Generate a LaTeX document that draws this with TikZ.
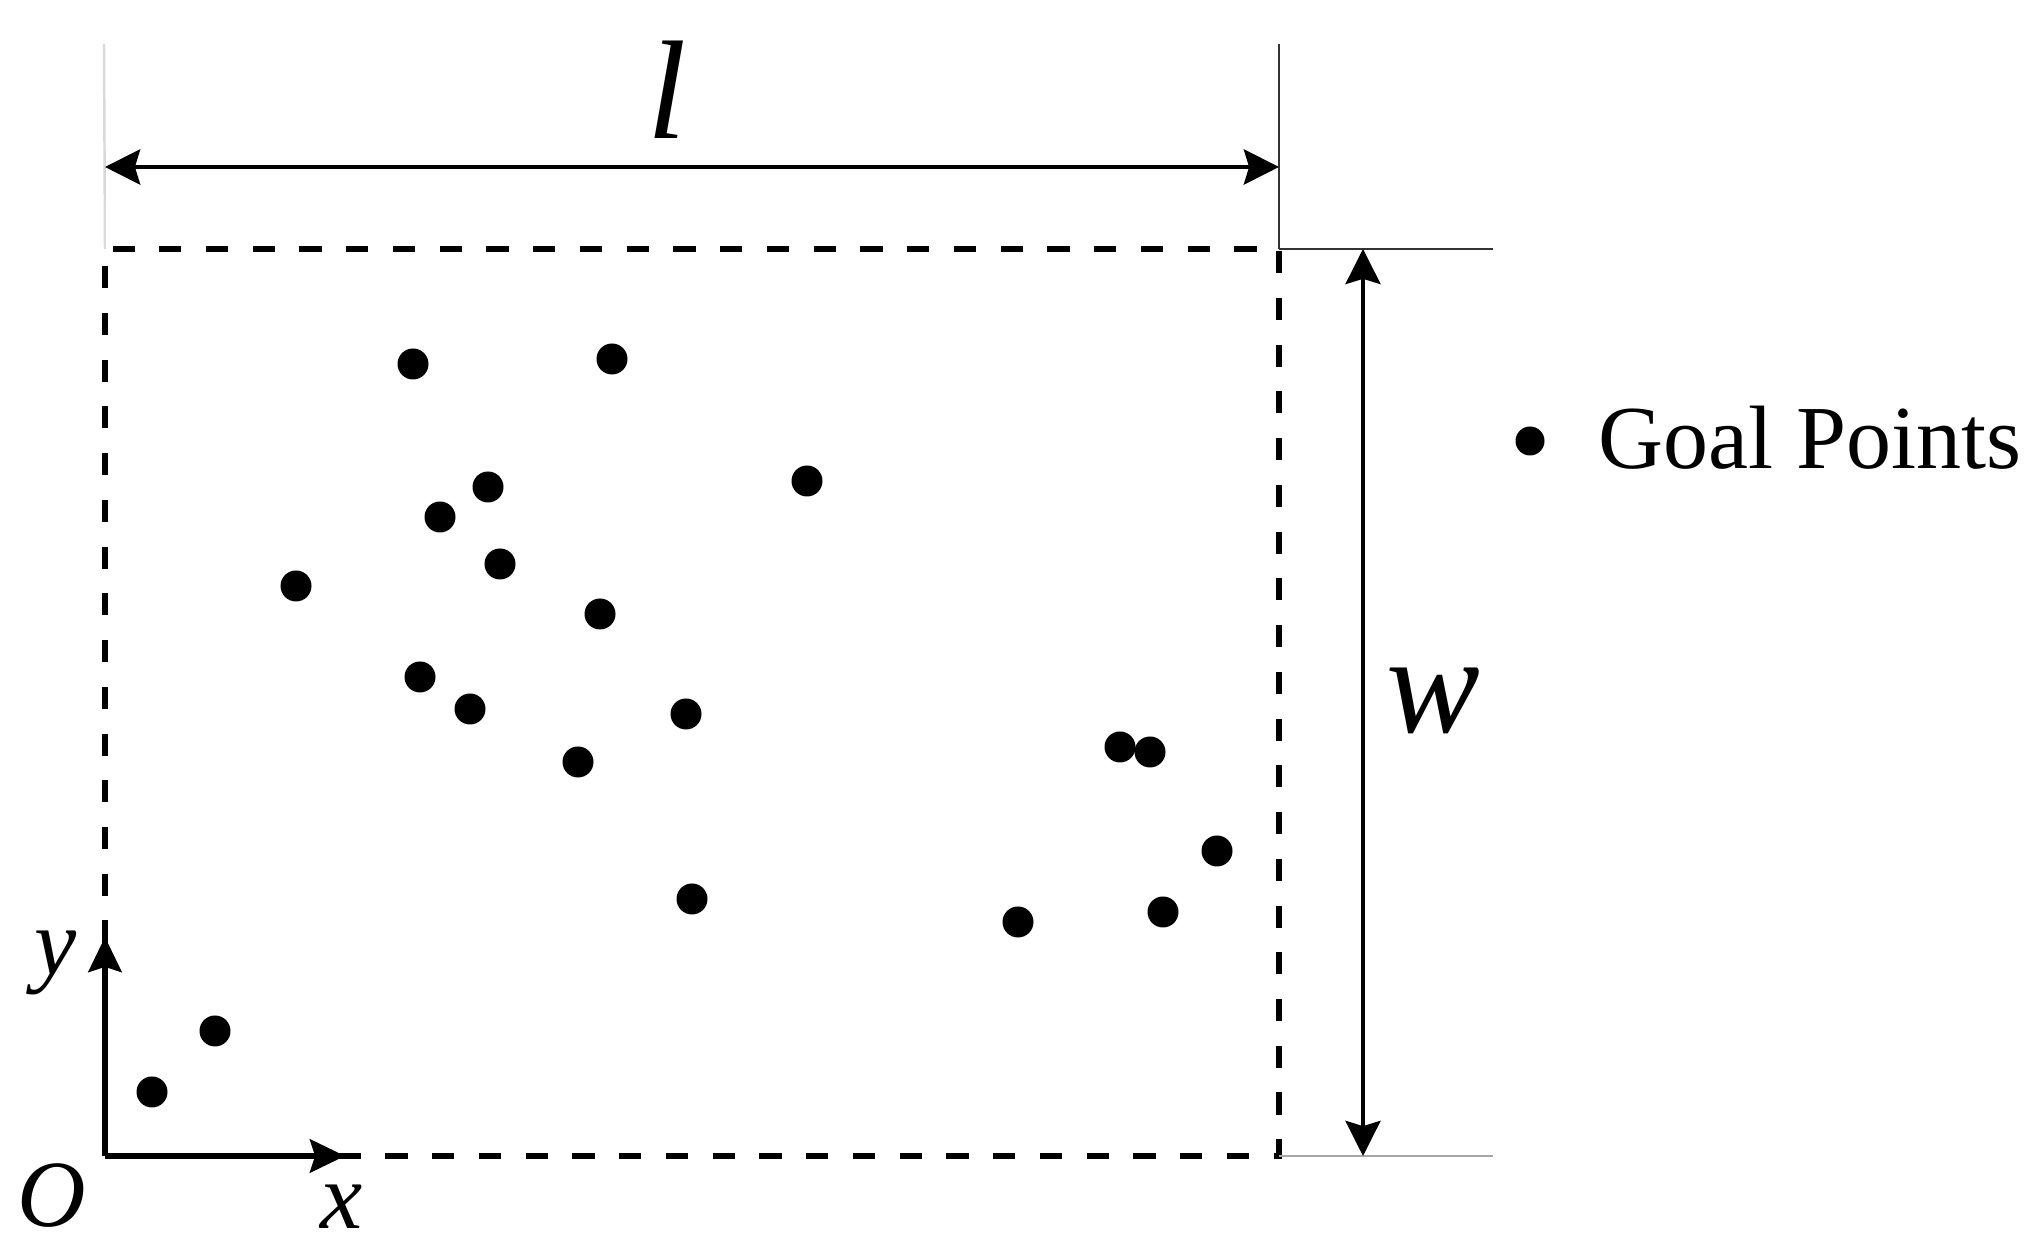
\documentclass[tikz,border=0pt]{standalone}
\usepackage{fontspec}
\setmainfont{Liberation Serif}
\usepackage{tikz}
\usetikzlibrary{arrows.meta, positioning, calc}

\tikzset{
  goal/.style={circle, fill=black, inner sep=0pt, minimum size=0.31cm},
  dimline/.style={{Stealth[length=10pt,width=10pt,inset=1.5pt]}-{Stealth[length=10pt,width=10pt,inset=1.5pt]}},
  extline/.style={line width=0.7pt},
  smalllab/.style={font=\fontsize{27}{30}\selectfont\itshape},
  biglab/.style={font=\fontsize{40}{44}\selectfont\itshape}
}

\begin{document}
\begin{tikzpicture}
  \useasboundingbox (0,0) rectangle (20.37,12.56);
  % 区域四角
  \coordinate (O) at (1.05,1.00);
  \coordinate (BR) at (12.79,1.00);
  \coordinate (TR) at (12.79,10.07);
  \coordinate (TL) at (1.05,10.07);
  % 工作区域（虚线框）
  \draw[line width=1.6pt, dash pattern=on 6.3pt off 7pt] (O) -- (BR) -- (TR) -- (TL) -- cycle;
  % 尺寸界线
  \coordinate (lL) at (1.04,12.12);
  \coordinate (lR) at (12.79,12.12);
  \coordinate (wT) at (14.93,10.07);
  \coordinate (wB) at (14.93,1.00);
  \draw[extline, black!15] (TL) -- (lL);
  \draw[extline, black!80] (TR) -- (lR);
  \draw[extline, black!80] (TR) -- (wT);
  \draw[extline, black!35] (BR) -- (wB);
  % 长度 l
  \coordinate (la) at (1.05,10.89);
  \coordinate (lb) at (12.79,10.89);
  \draw[dimline, line width=1.2pt] (la) -- (lb);
  \node[biglab] (llab) at (6.67,11.66) {l};
  % 宽度 w
  \coordinate (wa) at (13.63,10.07);
  \coordinate (wb) at (13.63,1.00);
  \draw[dimline, line width=0.9pt] (wa) -- (wb);
  \node[biglab] (wlab) at (14.33,5.55) {w};
  % 坐标轴
  \coordinate (xe) at (3.45,1.00);
  \coordinate (ye) at (1.05,3.19);
  \draw[-{Stealth[length=10pt,width=9.5pt,inset=1.5pt]}, line width=1.5pt] (O) -- (xe);
  \draw[-{Stealth[length=10pt,width=9.5pt,inset=1.5pt]}, line width=1.5pt] (O) -- (ye);
  \node[smalllab] (ylab) at (0.56,2.93) {y};
  \node[smalllab] (olab) at (0.52,0.60) {O};
  \node[smalllab] (xlab) at (3.42,0.49) {x};
  % 目标点
  \foreach \px/\py [count=\k] in {4.13/8.92, 6.12/8.97, 8.07/7.75, 4.88/7.69, 4.40/7.39,
      5.00/6.92, 2.96/6.70, 6.00/6.42, 4.20/5.79, 4.70/5.47, 6.86/5.42, 5.78/4.94,
      11.20/5.09, 11.50/5.04, 12.17/4.05, 6.92/3.57, 10.18/3.34, 11.63/3.44,
      2.15/2.25, 1.52/1.64}
    \node[goal] (g\k) at (\px,\py) {};
  % 图例
  \node[goal, minimum size=0.29cm] (legdot) at (15.30,8.15) {};
  \node[anchor=west, font=\fontsize{25.6}{29}\selectfont, inner sep=0pt] (legtxt) at (15.98,8.18) {Goal Points};
\end{tikzpicture}
\end{document}
